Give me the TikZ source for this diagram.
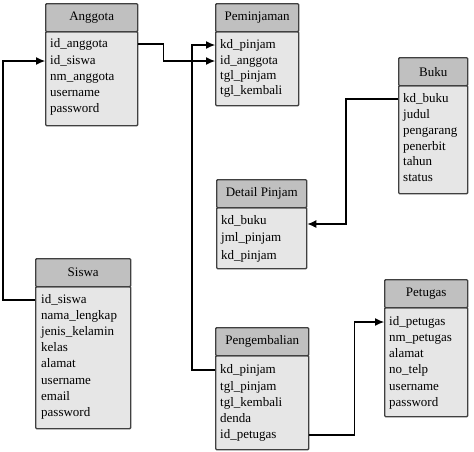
\documentclass[tikz,border=0pt]{standalone}
\usepackage{fontspec}
\setmainfont{Liberation Serif}
\usetikzlibrary{arrows.meta}
\definecolor{headgray}{RGB}{192,192,192}
\definecolor{bodygray}{RGB}{230,230,230}
\definecolor{edgegray}{RGB}{64,64,64}

\begin{document}
\begin{tikzpicture}[x=1pt, y=-1pt,
        thead/.style={draw=edgegray, line width=1.4pt, rounded corners=1pt, fill=headgray, anchor=north west,
            inner sep=0pt, minimum height=28pt, font=\fontsize{13}{13}\selectfont},
        tbody/.style={draw=edgegray, line width=1.4pt, rounded corners=1pt, fill=bodygray, anchor=north west, inner sep=0pt},
        field/.style={anchor=west, inner sep=0pt, text height=9pt, text depth=3pt, font=\fontsize{13}{13}\selectfont},
        link/.style={line width=1.1pt, -{Latex[length=9pt, width=8pt]}}]
        \useasboundingbox (0,0) rectangle (474,451);

        % Anggota
        \node[tbody, minimum width=92pt, minimum height=94pt] (anggota) at (45,31) {};
        \node[thead, minimum width=92pt] (anggota-h) at (45,3) {Anggota};
        \node[field] (anggota-1) at (50,44) {id\_anggota};
        \node[field] (anggota-2) at (50,61) {id\_siswa};
        \node[field] (anggota-3) at (50,77) {nm\_anggota};
        \node[field] (anggota-4) at (50,93) {username};
        \node[field] (anggota-5) at (50,109) {password};

        % Peminjaman
        \node[tbody, minimum width=83pt, minimum height=74pt] (pinjam) at (215,31) {};
        \node[thead, minimum width=83pt] (pinjam-h) at (215,3) {Peminjaman};
        \node[field] (pinjam-1) at (220,45) {kd\_pinjam};
        \node[field] (pinjam-2) at (220,61) {id\_anggota};
        \node[field] (pinjam-3) at (220,76) {tgl\_pinjam};
        \node[field] (pinjam-4) at (220,91) {tgl\_kembali};

        % Buku
        \node[tbody, minimum width=69pt, minimum height=108pt] (buku) at (398,85) {};
        \node[thead, minimum width=69pt] (buku-h) at (398,57) {Buku};
        \node[field] (buku-1) at (403,99) {kd\_buku};
        \node[field] (buku-2) at (403,115) {judul};
        \node[field] (buku-3) at (403,131) {pengarang};
        \node[field] (buku-4) at (403,147) {penerbit};
        \node[field] (buku-5) at (403,162) {tahun};
        \node[field] (buku-6) at (403,178) {status};

        % Detail Pinjam
        \node[tbody, minimum width=90pt, minimum height=61pt] (detail) at (216,207) {};
        \node[thead, minimum width=90pt] (detail-h) at (216,179) {Detail Pinjam};
        \node[field] (detail-1) at (221,221) {kd\_buku};
        \node[field] (detail-2) at (221,238) {jml\_pinjam};
        \node[field] (detail-3) at (221,256) {kd\_pinjam};

        % Siswa
        \node[tbody, minimum width=95pt, minimum height=142pt] (siswa) at (35,286) {};
        \node[thead, minimum width=95pt] (siswa-h) at (35,258) {Siswa};
        \node[field] (siswa-1) at (41,300) {id\_siswa};
        \node[field] (siswa-2) at (41,316) {nama\_lengkap};
        \node[field] (siswa-3) at (41,332) {jenis\_kelamin};
        \node[field] (siswa-4) at (41,348) {kelas};
        \node[field] (siswa-5) at (41,364) {alamat};
        \node[field] (siswa-6) at (41,381) {username};
        \node[field] (siswa-7) at (41,397) {email};
        \node[field] (siswa-8) at (41,413) {password};

        % Pengembalian
        \node[tbody, minimum width=93pt, minimum height=94pt] (kembali) at (215,355) {};
        \node[thead, minimum width=93pt] (kembali-h) at (215,327) {Pengembalian};
        \node[field] (kembali-1) at (220,370) {kd\_pinjam};
        \node[field] (kembali-2) at (220,387) {tgl\_pinjam};
        \node[field] (kembali-3) at (220,403) {tgl\_kembali};
        \node[field] (kembali-4) at (220,419) {denda};
        \node[field] (kembali-5) at (220,435) {id\_petugas};

        % Petugas
        \node[tbody, minimum width=83pt, minimum height=109pt] (petugas) at (384,307) {};
        \node[thead, minimum width=83pt] (petugas-h) at (384,279) {Petugas};
        \node[field] (petugas-1) at (389,322) {id\_petugas};
        \node[field] (petugas-2) at (389,338) {nm\_petugas};
        \node[field] (petugas-3) at (389,354) {alamat};
        \node[field] (petugas-4) at (389,370) {no\_telp};
        \node[field] (petugas-5) at (389,387) {username};
        \node[field] (petugas-6) at (389,403) {password};

        % relasi
        \draw[link] (anggota.east |- anggota-1) -- ++(25,0) |- (pinjam.west |- pinjam-2);
        \draw[link] (siswa.west |- siswa-1) -- ++(-32,0) |- (anggota.west |- anggota-2);
        \draw[link] (kembali.west |- kembali-1) -- ++(-23,0) |- (pinjam.west |- pinjam-1);
        \draw[link] (buku.west |- buku-1) -- ++(-52,0) |- ([yshift=-3pt]detail.east |- detail-1);
        \draw[link] (kembali.east |- kembali-5) -- ++(45,0) |- (petugas.west |- petugas-1);
    \end{tikzpicture}
\end{document}
